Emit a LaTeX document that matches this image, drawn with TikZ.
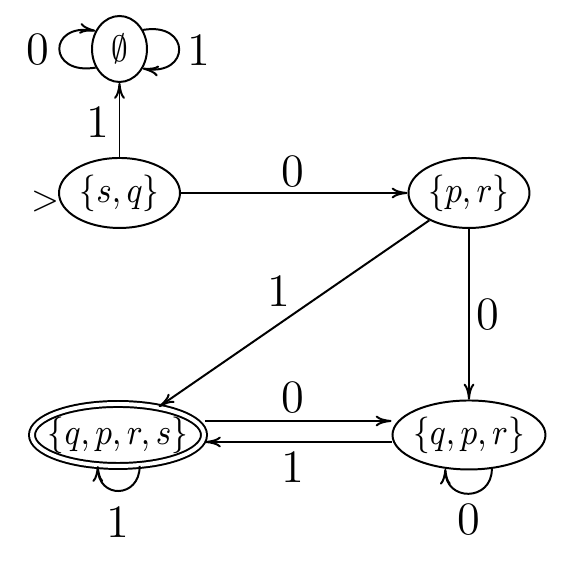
\documentclass[tikz,border=0pt]{standalone}
\usepackage{graphicx}
\usetikzlibrary{shapes.geometric,arrows.meta}
\def\pxu{0.2778pt}
\newcommand\ztxt[1]{\makebox[0pt]{\scalebox{1}[1.13]{\fontsize{9.2}{11}\selectfont$#1$}}}
\tikzset{
  st/.style={draw, ellipse, inner sep=0pt, line width=0.55pt},
  acc/.style={st, double, double distance=1.1pt},
  lab/.style={inner sep=0pt, font=\fontsize{12.9}{15}\selectfont},
  tr/.style={-{To[length=4.4pt,width=3pt]}, line width=0.55pt}
}
\begin{document}
\begin{tikzpicture}[x=0.2778pt, y=-0.2778pt]
\path[use as bounding box] (0,0) rectangle (576,564);
% states
\node[st, minimum width={55*\pxu}, minimum height={66*\pxu}] (e) at (119.5,49) {\ztxt{\emptyset}};
\node[st, minimum width={121*\pxu}, minimum height={70*\pxu}] (sq) at (119.5,193) {\ztxt{\{s,q\}}};
\node[st, minimum width={121*\pxu}, minimum height={70*\pxu}] (pr) at (469,193) {\ztxt{\{p,r\}}};
\node[acc, minimum width={172*\pxu}, minimum height={62*\pxu}] (qprs) at (118,435) {\ztxt{\{q,p,r,s\}}};
\node[st, minimum width={153*\pxu}, minimum height={69*\pxu}] (qpr) at (469,435) {\ztxt{\{q,p,r\}}};
% initial marker
\node[anchor=base, inner sep=0pt] (init) at (45,211) {$>$};
% transitions
\draw[tr] (sq) -- (e);
\draw[tr] (sq) -- (pr);
\draw[tr] (pr) -- (qprs);
\draw[tr] (pr) -- (qpr);
\draw[tr] ([yshift={14*\pxu}]qprs.east) -- ([yshift={14*\pxu}]qpr.west);
\draw[tr] ([yshift={-7*\pxu}]qpr.west) -- ([yshift={-7*\pxu}]qprs.east);
% loops
\draw[tr] (e.-142) .. controls +(-48,8) and +(-48,-8) .. (e.143);
\draw[tr] (e.39) .. controls +(48,-8) and +(48,8) .. (e.-40);
\draw[tr] (qprs.-55) .. controls +(0,33) and +(0,33) .. (qprs.-123);
\draw[tr] (qpr.-56) .. controls +(0,33) and +(0,33) .. (qpr.-125);
% labels
\node[lab] (l1) at (38,50) {0};
\node[lab] (l2) at (199,50) {1};
\node[lab] (l3) at (98,122) {1};
\node[lab] (l4) at (293,172) {0};
\node[lab] (l5) at (279,291) {1};
\node[lab] (l6) at (488,315) {0};
\node[lab] (l7) at (292.5,397.5) {0};
\node[lab] (l8) at (293,467) {1};
\node[lab] (l9) at (118,522) {1};
\node[lab] (l10) at (469,520) {0};
\end{tikzpicture}
\end{document}
